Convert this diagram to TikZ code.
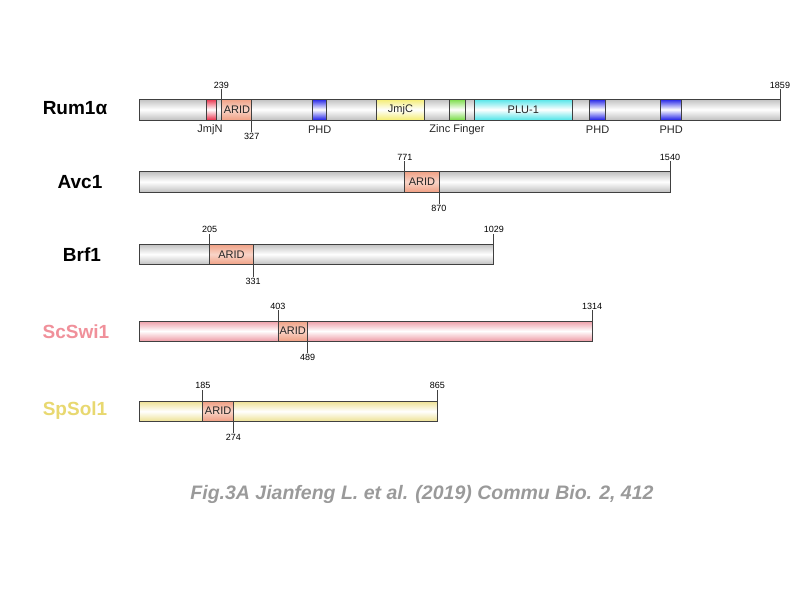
\documentclass[tikz,border=0pt]{standalone}
\usepackage{fontspec}
\setmainfont{Liberation Sans}
\usetikzlibrary{positioning}
\definecolor{EdgeGray}{HTML}{404040}
\definecolor{BarGray}{HTML}{C0C0C0}
\definecolor{LabGray}{HTML}{262626}
\definecolor{JmjNRed}{HTML}{E8304A}
\definecolor{AridSalmon}{HTML}{F0A084}
\definecolor{PhdBlue}{HTML}{1E1EE6}
\definecolor{JmjCYellow}{HTML}{F4EC70}
\definecolor{ZnGreen}{HTML}{78DC46}
\definecolor{PluCyan}{HTML}{50E4E8}
\definecolor{SwiPink}{HTML}{EE9CA6}
\definecolor{SolYellow}{HTML}{EEE296}
\definecolor{SwiName}{HTML}{F0909A}
\definecolor{SolName}{HTML}{E8D870}
\definecolor{CapGray}{HTML}{9A9A9A}
% residue -> x position (1859 aa over 641 px)
\newcommand{\aax}[1]{139+0.3448*#1}

\begin{document}
\begin{tikzpicture}[x=1pt,y=-1pt,
  every node/.style={inner sep=0pt},
  pname/.style={font=\fontsize{19}{22}\selectfont\bfseries},
  num/.style={font=\fontsize{9}{10}\selectfont},
  dlab/.style={font=\fontsize{11}{13}\selectfont,text=LabGray},
  bar/.style={draw=EdgeGray,line width=.9pt,top color=#1,bottom color=#1,middle color=white},
  arid/.style={draw=EdgeGray,line width=.9pt,top color=AridSalmon,bottom color=AridSalmon,middle color=AridSalmon!45!white},
  tick/.style={draw=EdgeGray,line width=.8pt}]
\useasboundingbox (0,0) rectangle (800,600);

% Rum1alpha
\node[pname] (rum) at (75,108) {Rum1α};
\shade[bar=BarGray] (139,99) rectangle ({\aax{1859}},120);
\shade[bar=JmjNRed] (206,99) rectangle (216,120);
\shade[arid] ({\aax{239}},99) rectangle ({\aax{327}},120);
\foreach \xa/\xb in {312.7/326.7, 589.5/605.7, 660.7/681.7}
  \shade[bar=PhdBlue] (\xa,99) rectangle (\xb,120);
\shade[bar=JmjCYellow] (376.7,99) rectangle (424.3,120);
\shade[bar=ZnGreen] (449.3,99) rectangle (465.7,120);
\shade[bar=PluCyan] (474.3,99) rectangle (572.3,120);
\node[dlab] (rumarid) at (237,109.5) {ARID};
\node[dlab] (rumjmjc) at (400.5,109.5) {JmjC};
\node[dlab] (rumplu) at (523.3,109.5) {PLU-1};
\node[dlab] (rumjmjn) at (210,129.5) {JmjN};
\node[dlab] (rumphda) at (319.7,129.5) {PHD};
\node[dlab] (rumzn) at (457,129.5) {Zinc Finger};
\node[dlab] (rumphdb) at (597.6,129.5) {PHD};
\node[dlab] (rumphdc) at (671.2,129.5) {PHD};
\node[num] (r239) at ({\aax{239}},85) {239};
\node[num] (r327) at ({\aax{327}},136.5) {327};
\node[num] (r1859) at ({\aax{1859}},85) {1859};
\coordinate (r239e) at ({\aax{239}},99);
\coordinate (r327e) at ({\aax{327}},120);
\coordinate (r1859e) at ({\aax{1859}},99);
\draw[tick] ([yshift=-1pt]r239.south) -- (r239e);
\draw[tick] ([yshift=1pt]r327.north) -- (r327e);
\draw[tick] ([yshift=-1pt]r1859.south) -- (r1859e);

% Avc1
\node[pname] (avc) at (80,182) {Avc1};
\shade[bar=BarGray] (139,171.5) rectangle ({\aax{1540}},192);
\shade[arid] ({\aax{771}},171.5) rectangle ({\aax{870}},192);
\node[dlab] (avcarid) at ({\aax{820.5}},182) {ARID};
\node[num] (a771) at ({\aax{771}},157) {771};
\node[num] (a870) at ({\aax{870}},208.5) {870};
\node[num] (a1540) at ({\aax{1540}},157) {1540};
\coordinate (a771e) at ({\aax{771}},171.5);
\coordinate (a870e) at ({\aax{870}},192);
\coordinate (a1540e) at ({\aax{1540}},171.5);
\draw[tick] ([yshift=-1pt]a771.south) -- (a771e);
\draw[tick] ([yshift=1pt]a870.north) -- (a870e);
\draw[tick] ([yshift=-1pt]a1540.south) -- (a1540e);

% Brf1
\node[pname] (brf) at (82,254.5) {Brf1};
\shade[bar=BarGray] (139,244) rectangle ({\aax{1029}},264.5);
\shade[arid] ({\aax{205}},244) rectangle ({\aax{331}},264.5);
\node[dlab] (brfarid) at ({\aax{268}},254.3) {ARID};
\node[num] (b205) at ({\aax{205}},229.5) {205};
\node[num] (b331) at ({\aax{331}},281) {331};
\node[num] (b1029) at ({\aax{1029}},229.5) {1029};
\coordinate (b205e) at ({\aax{205}},244);
\coordinate (b331e) at ({\aax{331}},264.5);
\coordinate (b1029e) at ({\aax{1029}},244);
\draw[tick] ([yshift=-1pt]b205.south) -- (b205e);
\draw[tick] ([yshift=1pt]b331.north) -- (b331e);
\draw[tick] ([yshift=-1pt]b1029.south) -- (b1029e);

% ScSwi1
\node[pname,text=SwiName] (swi) at (76,331.5) {ScSwi1};
\shade[bar=SwiPink] (139,321) rectangle ({\aax{1314}},341);
\shade[arid] ({\aax{403}},321) rectangle ({\aax{489}},341);
\node[dlab] (swiarid) at ({\aax{446}},331) {ARID};
\node[num] (s403) at ({\aax{403}},306) {403};
\node[num] (s489) at ({\aax{489}},357.5) {489};
\node[num] (s1314) at ({\aax{1314}},306) {1314};
\coordinate (s403e) at ({\aax{403}},321);
\coordinate (s489e) at ({\aax{489}},341);
\coordinate (s1314e) at ({\aax{1314}},321);
\draw[tick] ([yshift=-1pt]s403.south) -- (s403e);
\draw[tick] ([yshift=1pt]s489.north) -- (s489e);
\draw[tick] ([yshift=-1pt]s1314.south) -- (s1314e);

% SpSol1
\node[pname,text=SolName] (sol) at (75,411) {SpSol1};
\shade[bar=SolYellow] (139,401.5) rectangle ({\aax{865}},421);
\shade[arid] ({\aax{185}},401.5) rectangle ({\aax{274}},421);
\node[dlab] (solarid) at ({\aax{229.5}},411) {ARID};
\node[num] (p185) at ({\aax{185}},385.5) {185};
\node[num] (p274) at ({\aax{274}},437) {274};
\node[num] (p865) at ({\aax{865}},385.5) {865};
\coordinate (p185e) at ({\aax{185}},401.5);
\coordinate (p274e) at ({\aax{274}},421);
\coordinate (p865e) at ({\aax{865}},401.5);
\draw[tick] ([yshift=-1pt]p185.south) -- (p185e);
\draw[tick] ([yshift=1pt]p274.north) -- (p274e);
\draw[tick] ([yshift=-1pt]p865.south) -- (p865e);

\node[font=\fontsize{19.5}{22}\selectfont\bfseries\itshape,text=CapGray] (cap) at (422,494)
  {Fig.3A Jianfeng L. et al. (2019) Commu Bio. 2, 412};
\end{tikzpicture}
\end{document}
